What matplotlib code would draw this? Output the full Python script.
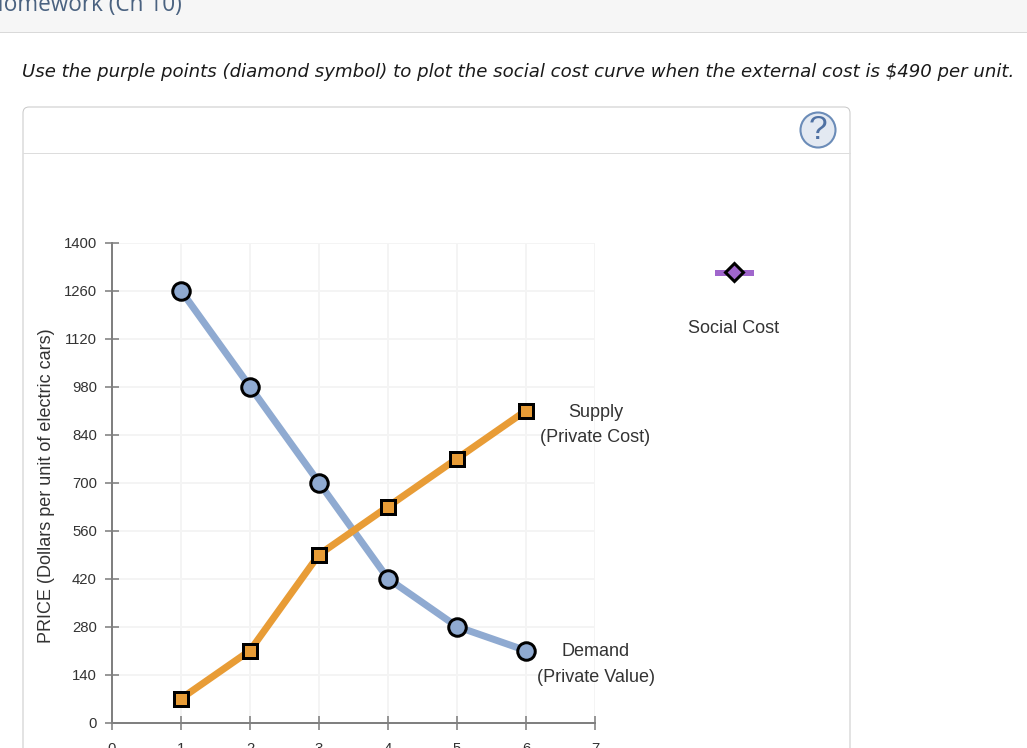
import matplotlib
matplotlib.use("Agg")
import matplotlib.pyplot as plt
from matplotlib.patches import Rectangle, FancyBboxPatch, Circle
from matplotlib.lines import Line2D

quantity = [1, 2, 3, 4, 5, 6]
demand = [1260, 980, 700, 420, 280, 210]
supply = [70, 210, 490, 630, 770, 910]
x_ticks = [0, 1, 2, 3, 4, 5, 6, 7]
y_ticks = [0, 140, 280, 420, 560, 700, 840, 980, 1120, 1260, 1400]
legend_x = [9.01]
legend_y = [1315]

W, H = 1027, 748
PX = 0.72
plt.rcParams['font.family'] = ['Liberation Sans', 'DejaVu Sans']
fig = plt.figure(figsize=(W / 100, H / 100), dpi=100, facecolor='white')

# page furniture, in pixel coordinates
bg = fig.add_axes([0, 0, 1, 1], zorder=0)
bg.set_xlim(0, W); bg.set_ylim(H, 0); bg.axis('off')
bg.add_patch(Rectangle((0, 0), W, 32, fc='#f6f6f6', ec='none'))
bg.add_line(Line2D([0, W], [32, 32], color='#d9d9d9', lw=PX))
bg.text(-13, 11, 'Homework (Ch 10)', fontsize=16.25, color='#4a6280', family='Open Sans',
        va='baseline', ha='left')
bg.text(22, 76.5, 'Use the purple points (diamond symbol) to plot the social cost curve when the external cost is \\$490 per unit.',
        fontsize=13.05, style='italic', family='DejaVu Sans', color='#1a1a1a', va='baseline')
bg.add_patch(FancyBboxPatch((23, 107), 827, 700, boxstyle='round,pad=0,rounding_size=6',
                            fc='white', ec='#c8c8c8', lw=PX))
bg.add_line(Line2D([23, 850], [153, 153], color='#dddddd', lw=PX))
bg.add_patch(Circle((818, 130), 17.5, fc='#e3e9f2', ec='#6b8cb8', lw=1.5))
bg.text(818, 130.5, '?', fontsize=24, color='#4f71a3', ha='center', va='center')
bg.add_line(Line2D([715, 754], [272.5, 272.5], color='#a066cc', lw=6 * PX, solid_capstyle='butt'))

# chart
ax = fig.add_axes([112 / W, (H - 722.6) / H, (595 - 112) / W, (722.6 - 242.6) / H], zorder=1)
ax.patch.set_alpha(0)
ax.set_xlim(0, 7); ax.set_ylim(0, 1400)
ax.set_xticks(x_ticks); ax.set_yticks(y_ticks)
ax.grid(True, color='#f4f4f4', lw=2 * PX, zorder=0)
ax.set_axisbelow(True)
for s in ['top', 'right']:
    ax.spines[s].set_visible(False)
for s in ['left', 'bottom']:
    ax.spines[s].set_color('#808080'); ax.spines[s].set_linewidth(2 * PX)
ax.tick_params(axis='both', which='major', direction='inout', length=14 * PX, width=1.6 * PX,
               color='#808080', labelcolor='#333333', labelsize=10.7)
ax.tick_params(axis='x', pad=8.6)
ax.tick_params(axis='y', pad=5.8)
ax.set_ylabel('PRICE (Dollars per unit of electric cars)', fontsize=13, color='#333333')
ax.yaxis.set_label_coords((55 - 112) / (595 - 112), (722.6 - 486) / 480)

ax.plot(quantity, demand, color='#8faad1', lw=7 * PX, marker='o', ms=17.5 * PX,
        mfc='#8faad1', mec='black', mew=3 * PX, zorder=3, clip_on=False)
ax.plot(quantity, supply, color='#e89c36', lw=7 * PX, marker='s', ms=14.5 * PX,
        mfc='#e89c36', mec='black', mew=3 * PX, zorder=4, clip_on=False)
ax.plot(legend_x, legend_y, color='#a066cc', marker='D', ms=12.5 * PX, mfc='#a066cc',
        mec='black', mew=3 * PX, ls='none', zorder=6, clip_on=False)

# curve labels sit above the grid
top = fig.add_axes([0, 0, 1, 1], zorder=2)
top.set_xlim(0, W); top.set_ylim(H, 0); top.axis('off')
lab = dict(fontsize=13, color='#333333', ha='center', va='center')
top.text(734, 328, 'Social Cost', **lab)
top.text(595.5, 412, 'Supply', **lab)
top.text(595.5, 437, '(Private Cost)', **lab)
top.text(596, 652, 'Demand', **lab)
top.text(596, 678, '(Private Value)', **lab)

fig.savefig('out.png', dpi=100)
